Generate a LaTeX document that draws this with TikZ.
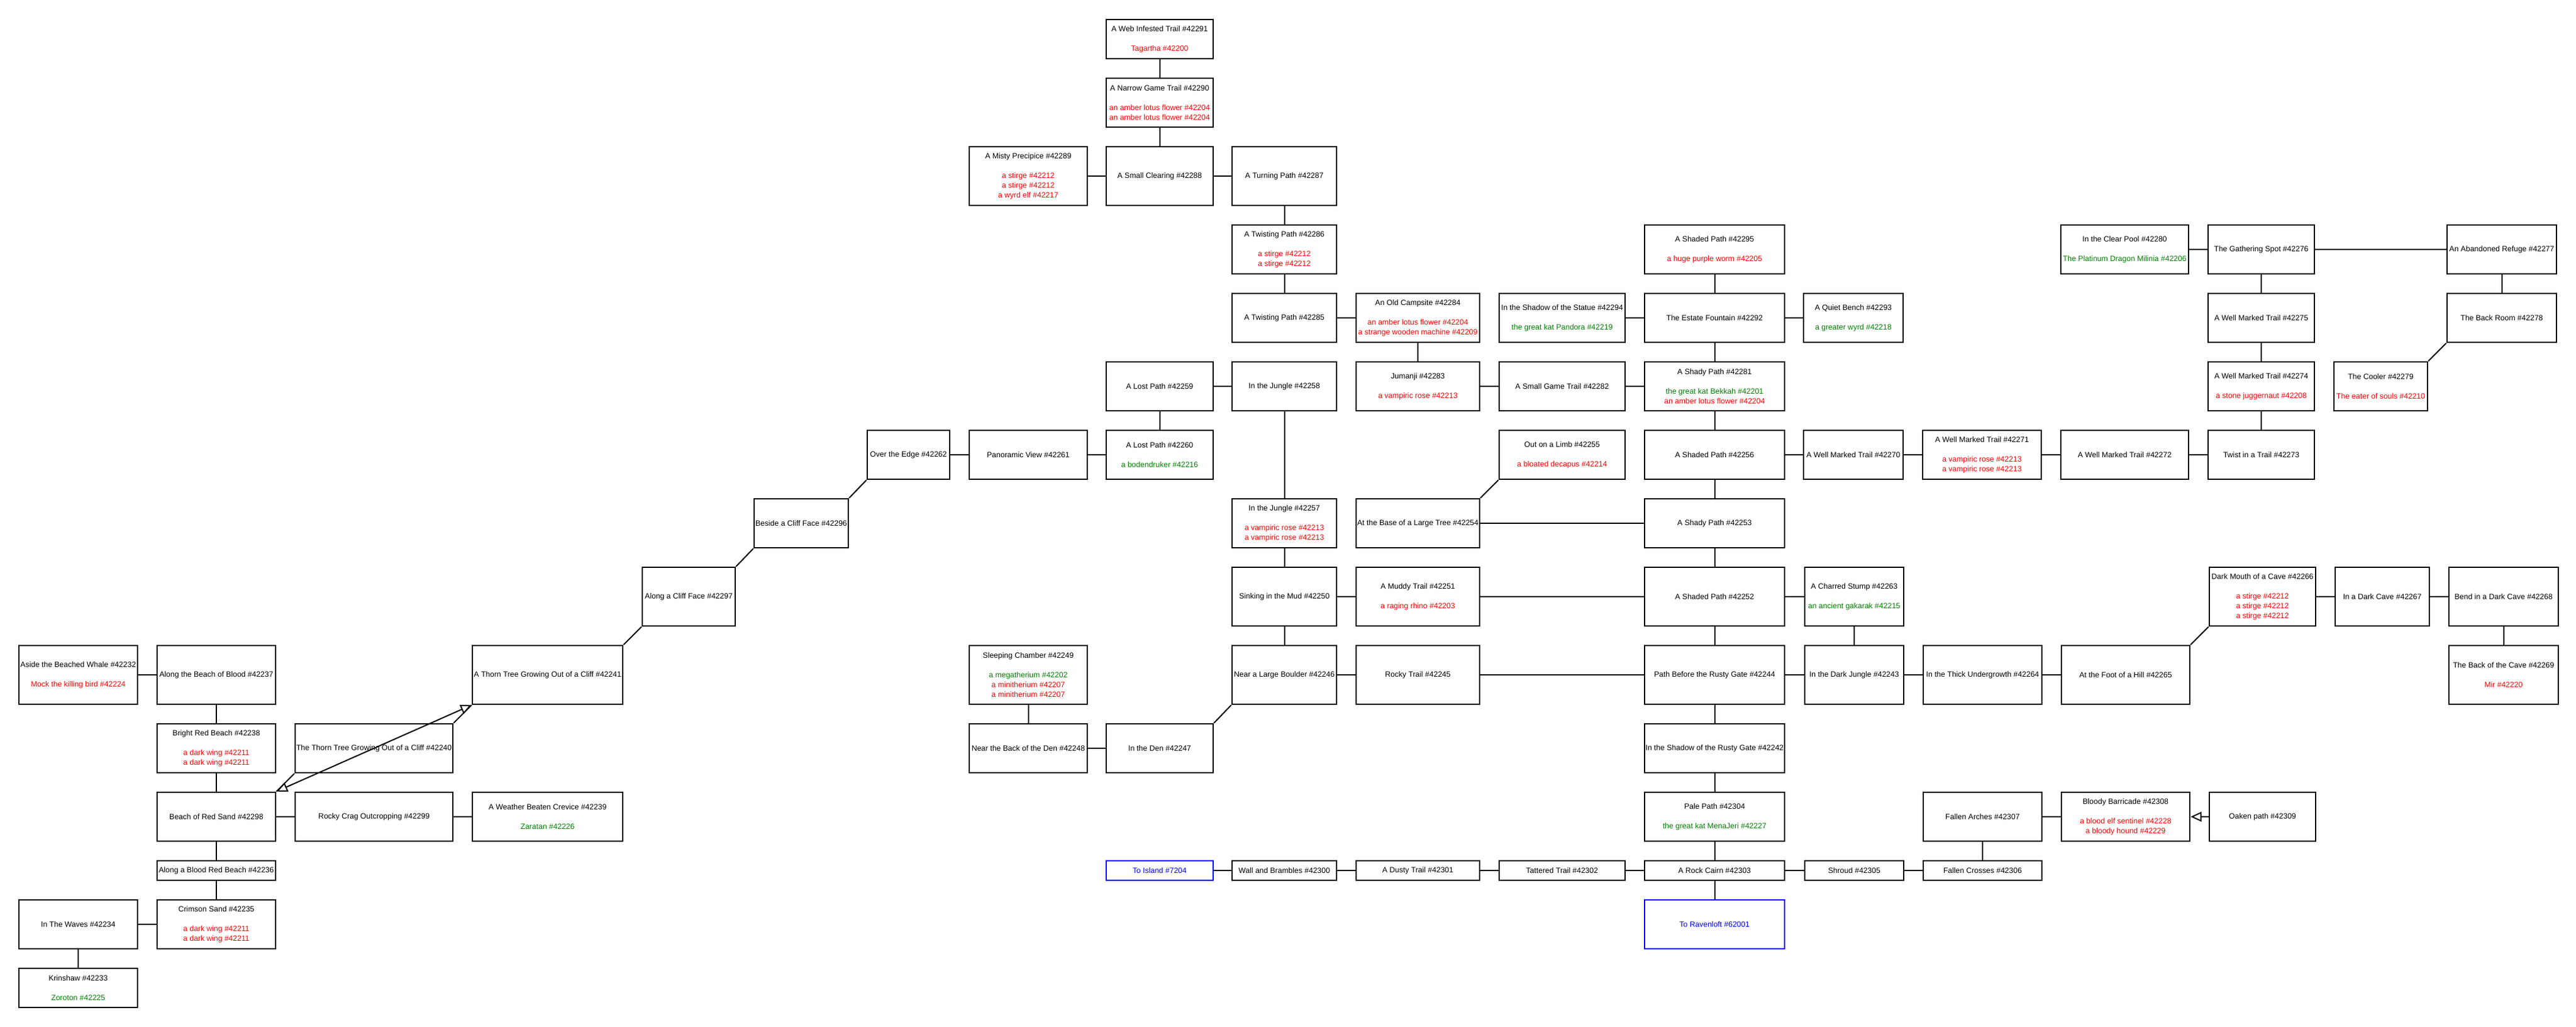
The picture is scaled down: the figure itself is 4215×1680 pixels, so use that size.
\documentclass[tikz,border=0pt]{standalone}
\usepackage{fontspec}
\setmainfont{Liberation Sans}
\usetikzlibrary{arrows.meta}
\definecolor{cred}{RGB}{255,0,0}
\definecolor{cgreen}{RGB}{0,128,0}
\definecolor{cblue}{RGB}{0,0,255}
\newcommand\Cr[1]{\textcolor{cred}{#1}}
\newcommand\Cg[1]{\textcolor{cgreen}{#1}}
\newcommand\GAP{\\[16pt]}
\newcommand\R[6]{\node[roombox,minimum width={#4-#2},minimum height={#5-#3}] (#1) at ({(#2+#4)/2},{(#3+#5)/2}) {#6};}
\newcommand\RB[6]{\node[roombox,draw=cblue,text=cblue,minimum width={#4-#2},minimum height={#5-#3}] (#1) at ({(#2+#4)/2},{(#3+#5)/2}) {#6};}
\tikzset{
  roombox/.style={draw=black,line width=2.6pt,fill=white,inner sep=0pt,align=center,font=\fontsize{12.5}{16}\selectfont},
  link/.style={line width=2pt},
  oarrow/.style={line width=2pt,-{Triangle[open,length=18pt,width=16pt,line width=2pt]}},
}
\begin{document}
\begin{tikzpicture}[x=1pt,y=-1pt]
\useasboundingbox (0,0) rectangle (4215,1680);
\R{n42291}{1810}{32}{1985}{96}{A Web Infested Trail \#42291\GAP\Cr{Tagartha \#42200}}
\R{n42290}{1810}{128}{1985}{208}{A Narrow Game Trail \#42290\GAP\Cr{an amber lotus flower \#42204}\\\Cr{an amber lotus flower \#42204}}
\R{n42289}{1586}{240}{1779}{336}{A Misty Precipice \#42289\GAP\Cr{a stirge \#42212}\\\Cr{a stirge \#42212}\\\Cr{a wyrd elf \#42217}}
\R{n42288}{1810}{240}{1985}{336}{A Small Clearing \#42288}
\R{n42287}{2016}{240}{2187}{336}{A Turning Path \#42287}
\R{n42286}{2016}{368}{2187}{448}{A Twisting Path \#42286\GAP\Cr{a stirge \#42212}\\\Cr{a stirge \#42212}}
\R{n42295}{2691}{368}{2920}{448}{A Shaded Path \#42295\GAP\Cr{a huge purple worm \#42205}}
\R{n42280}{3372}{368}{3581}{448}{In the Clear Pool \#42280\GAP\Cg{The Platinum Dragon Milinia \#42206}}
\R{n42276}{3613}{368}{3787}{448}{The Gathering Spot \#42276}
\R{n42277}{4004}{368}{4183}{448}{An Abandoned Refuge \#42277}
\R{n42285}{2016}{480}{2187}{560}{A Twisting Path \#42285}
\R{n42284}{2219}{480}{2421}{560}{An Old Campsite \#42284\GAP\Cr{an amber lotus flower \#42204}\\\Cr{a strange wooden machine \#42209}}
\R{n42294}{2453}{480}{2659}{560}{In the Shadow of the Statue \#42294\GAP\Cg{the great kat Pandora \#42219}}
\R{n42292}{2691}{480}{2920}{560}{The Estate Fountain \#42292}
\R{n42293}{2951}{480}{3114}{560}{A Quiet Bench \#42293\GAP\Cg{a greater wyrd \#42218}}
\R{n42275}{3613}{480}{3787}{560}{A Well Marked Trail \#42275}
\R{n42278}{4004}{480}{4183}{560}{The Back Room \#42278}
\R{n42259}{1810}{592}{1985}{672}{A Lost Path \#42259}
\R{n42258}{2016}{592}{2187}{672}{In the Jungle \#42258}
\R{n42283}{2219}{592}{2421}{672}{Jumanji \#42283\GAP\Cr{a vampiric rose \#42213}}
\R{n42282}{2453}{592}{2659}{672}{A Small Game Trail \#42282}
\R{n42281}{2691}{592}{2920}{672}{A Shady Path \#42281\GAP\Cg{the great kat Bekkah \#42201}\\\Cr{an amber lotus flower \#42204}}
\R{n42274}{3613}{592}{3787}{672}{A Well Marked Trail \#42274\GAP\Cr{a stone juggernaut \#42208}}
\R{n42279}{3819}{592}{3972}{672}{The Cooler \#42279\GAP\Cr{The eater of souls \#42210}}
\R{n42262}{1419}{704}{1554}{784}{Over the Edge \#42262}
\R{n42261}{1586}{704}{1779}{784}{Panoramic View \#42261}
\R{n42260}{1810}{704}{1985}{784}{A Lost Path \#42260\GAP\Cg{a bodendruker \#42216}}
\R{n42255}{2453}{704}{2659}{784}{Out on a Limb \#42255\GAP\Cr{a bloated decapus \#42214}}
\R{n42256}{2691}{704}{2920}{784}{A Shaded Path \#42256}
\R{n42270}{2951}{704}{3114}{784}{A Well Marked Trail \#42270}
\R{n42271}{3146}{704}{3340}{784}{A Well Marked Trail \#42271\GAP\Cr{a vampiric rose \#42213}\\\Cr{a vampiric rose \#42213}}
\R{n42272}{3372}{704}{3581}{784}{A Well Marked Trail \#42272}
\R{n42273}{3613}{704}{3787}{784}{Twist in a Trail \#42273}
\R{n42296}{1234}{816}{1388}{896}{Beside a Cliff Face \#42296}
\R{n42257}{2016}{816}{2187}{896}{In the Jungle \#42257\GAP\Cr{a vampiric rose \#42213}\\\Cr{a vampiric rose \#42213}}
\R{n42254}{2219}{816}{2421}{896}{At the Base of a Large Tree \#42254}
\R{n42253}{2691}{816}{2920}{896}{A Shady Path \#42253}
\R{n42297}{1051}{928}{1203}{1024}{Along a Cliff Face \#42297}
\R{n42250}{2016}{928}{2187}{1024}{Sinking in the Mud \#42250}
\R{n42251}{2219}{928}{2421}{1024}{A Muddy Trail \#42251\GAP\Cr{a raging rhino \#42203}}
\R{n42252}{2691}{928}{2920}{1024}{A Shaded Path \#42252}
\R{n42263}{2953}{928}{3115}{1024}{A Charred Stump \#42263\GAP\Cg{an ancient gakarak \#42215}}
\R{n42266}{3615}{928}{3789}{1024}{Dark Mouth of a Cave \#42266\GAP\Cr{a stirge \#42212}\\\Cr{a stirge \#42212}\\\Cr{a stirge \#42212}}
\R{n42267}{3821}{928}{3975}{1024}{In a Dark Cave \#42267}
\R{n42268}{4007}{928}{4186}{1024}{Bend in a Dark Cave \#42268}
\R{n42232}{31}{1056}{225}{1152}{Aside the Beached Whale \#42232\GAP\Cr{Mock the killing bird \#42224}}
\R{n42237}{257}{1056}{451}{1152}{Along the Beach of Blood \#42237}
\R{n42241}{773}{1056}{1019}{1152}{A Thorn Tree Growing Out of a Cliff \#42241}
\R{n42249}{1586}{1056}{1779}{1152}{Sleeping Chamber \#42249\GAP\Cg{a megatherium \#42202}\\\Cr{a minitherium \#42207}\\\Cr{a minitherium \#42207}}
\R{n42246}{2016}{1056}{2187}{1152}{Near a Large Boulder \#42246}
\R{n42245}{2219}{1056}{2421}{1152}{Rocky Trail \#42245}
\R{n42244}{2691}{1056}{2920}{1152}{Path Before the Rusty Gate \#42244}
\R{n42243}{2953}{1056}{3115}{1152}{In the Dark Jungle \#42243}
\R{n42264}{3147}{1056}{3341}{1152}{In the Thick Undergrowth \#42264}
\R{n42265}{3373}{1056}{3583}{1152}{At the Foot of a Hill \#42265}
\R{n42269}{4007}{1056}{4186}{1152}{The Back of the Cave \#42269\GAP\Cr{Mir \#42220}}
\R{n42238}{257}{1184}{451}{1264}{Bright Red Beach \#42238\GAP\Cr{a dark wing \#42211}\\\Cr{a dark wing \#42211}}
\R{n42240}{483}{1184}{741}{1264}{The Thorn Tree Growing Out of a Cliff \#42240}
\R{n42248}{1586}{1184}{1779}{1264}{Near the Back of the Den \#42248}
\R{n42247}{1810}{1184}{1985}{1264}{In the Den \#42247}
\R{n42242}{2691}{1184}{2920}{1264}{In the Shadow of the Rusty Gate \#42242}
\R{n42298}{257}{1296}{451}{1376}{Beach of Red Sand \#42298}
\R{n42299}{483}{1296}{741}{1376}{Rocky Crag Outcropping \#42299}
\R{n42239}{773}{1296}{1019}{1376}{A Weather Beaten Crevice \#42239\GAP\Cg{Zaratan \#42226}}
\R{n42304}{2691}{1296}{2920}{1376}{Pale Path \#42304\GAP\Cg{the great kat MenaJeri \#42227}}
\R{n42307}{3147}{1296}{3341}{1376}{Fallen Arches \#42307}
\R{n42308}{3373}{1296}{3583}{1376}{Bloody Barricade \#42308\GAP\Cr{a blood elf sentinel \#42228}\\\Cr{a bloody hound \#42229}}
\R{n42309}{3615}{1296}{3789}{1376}{Oaken path \#42309}
\R{n42236}{257}{1408}{451}{1440}{Along a Blood Red Beach \#42236}
\RB{n7204}{1810}{1408}{1985}{1440}{To Island \#7204}
\R{n42300}{2016}{1408}{2187}{1440}{Wall and Brambles \#42300}
\R{n42301}{2219}{1408}{2421}{1440}{A Dusty Trail \#42301}
\R{n42302}{2453}{1408}{2659}{1440}{Tattered Trail \#42302}
\R{n42303}{2691}{1408}{2920}{1440}{A Rock Cairn \#42303}
\R{n42305}{2953}{1408}{3115}{1440}{Shroud \#42305}
\R{n42306}{3147}{1408}{3341}{1440}{Fallen Crosses \#42306}
\R{n42234}{31}{1472}{225}{1552}{In The Waves \#42234}
\R{n42235}{257}{1472}{451}{1552}{Crimson Sand \#42235\GAP\Cr{a dark wing \#42211}\\\Cr{a dark wing \#42211}}
\RB{n62001}{2691}{1472}{2920}{1552}{To Ravenloft \#62001}
\R{n42233}{31}{1584}{225}{1648}{Krinshaw \#42233\GAP\Cg{Zoroton \#42225}}

\begin{scope}[on background layer/.style={}]
\foreach \a/\b in {n42291/n42290,n42290/n42288,n42289/n42288,n42288/n42287,n42287/n42286,n42286/n42285,n42285/n42284,n42284/n42283,
 n42283/n42282,n42282/n42281,n42294/n42292,n42292/n42293,n42295/n42292,n42292/n42281,n42281/n42256,n42256/n42253,n42253/n42252,
 n42252/n42244,n42244/n42242,n42242/n42304,n42304/n42303,n42303/n62001,n42258/n42257,n42257/n42250,n42250/n42246,n42250/n42251,
 n42251/n42252,n42252/n42263,n42263/n42243,n42244/n42243,n42243/n42264,n42264/n42265,n42266/n42267,n42267/n42268,n42268/n42269,
 n42254/n42253,n42256/n42270,n42270/n42271,n42271/n42272,n42272/n42273,n42273/n42274,n42274/n42275,n42275/n42276,n42280/n42276,
 n42276/n42277,n42277/n42278,n42246/n42245,n42245/n42244,n7204/n42300,n42300/n42301,n42301/n42302,n42302/n42303,n42303/n42305,
 n42305/n42306,n42306/n42307,n42307/n42308,n42262/n42261,n42261/n42260,n42260/n42259,n42259/n42258,n42249/n42248,n42248/n42247,
 n42232/n42237,n42237/n42238,n42238/n42298,n42298/n42299,n42299/n42239,n42298/n42236,n42236/n42235,n42235/n42234,n42234/n42233}
  \draw[link] (\a) -- (\b);
\end{scope}
\draw[link] (n42247.north east) -- (n42246.south west);
\draw[link] (n42254.north east) -- (n42255.south west);
\draw[link] (n42265.north east) -- (n42266.south west);
\draw[link] (n42278.south west) -- (n42279.north east);
\draw[link] (n42241.north east) -- (n42297.south west);
\draw[link] (n42297.north east) -- (n42296.south west);
\draw[link] (n42296.north east) -- (n42262.south west);
\draw[link] (n42240.south west) -- (n42298.north east);
\draw[link] (n42240.north east) -- (n42241.south west);
\draw[oarrow,{Triangle[open,length=18pt,width=16pt,line width=2pt]}-{Triangle[open,length=18pt,width=16pt,line width=2pt]}] (n42298.north east) -- (n42241.south west);
\draw[oarrow] (n42309) -- (n42308);
\end{tikzpicture}
\end{document}
